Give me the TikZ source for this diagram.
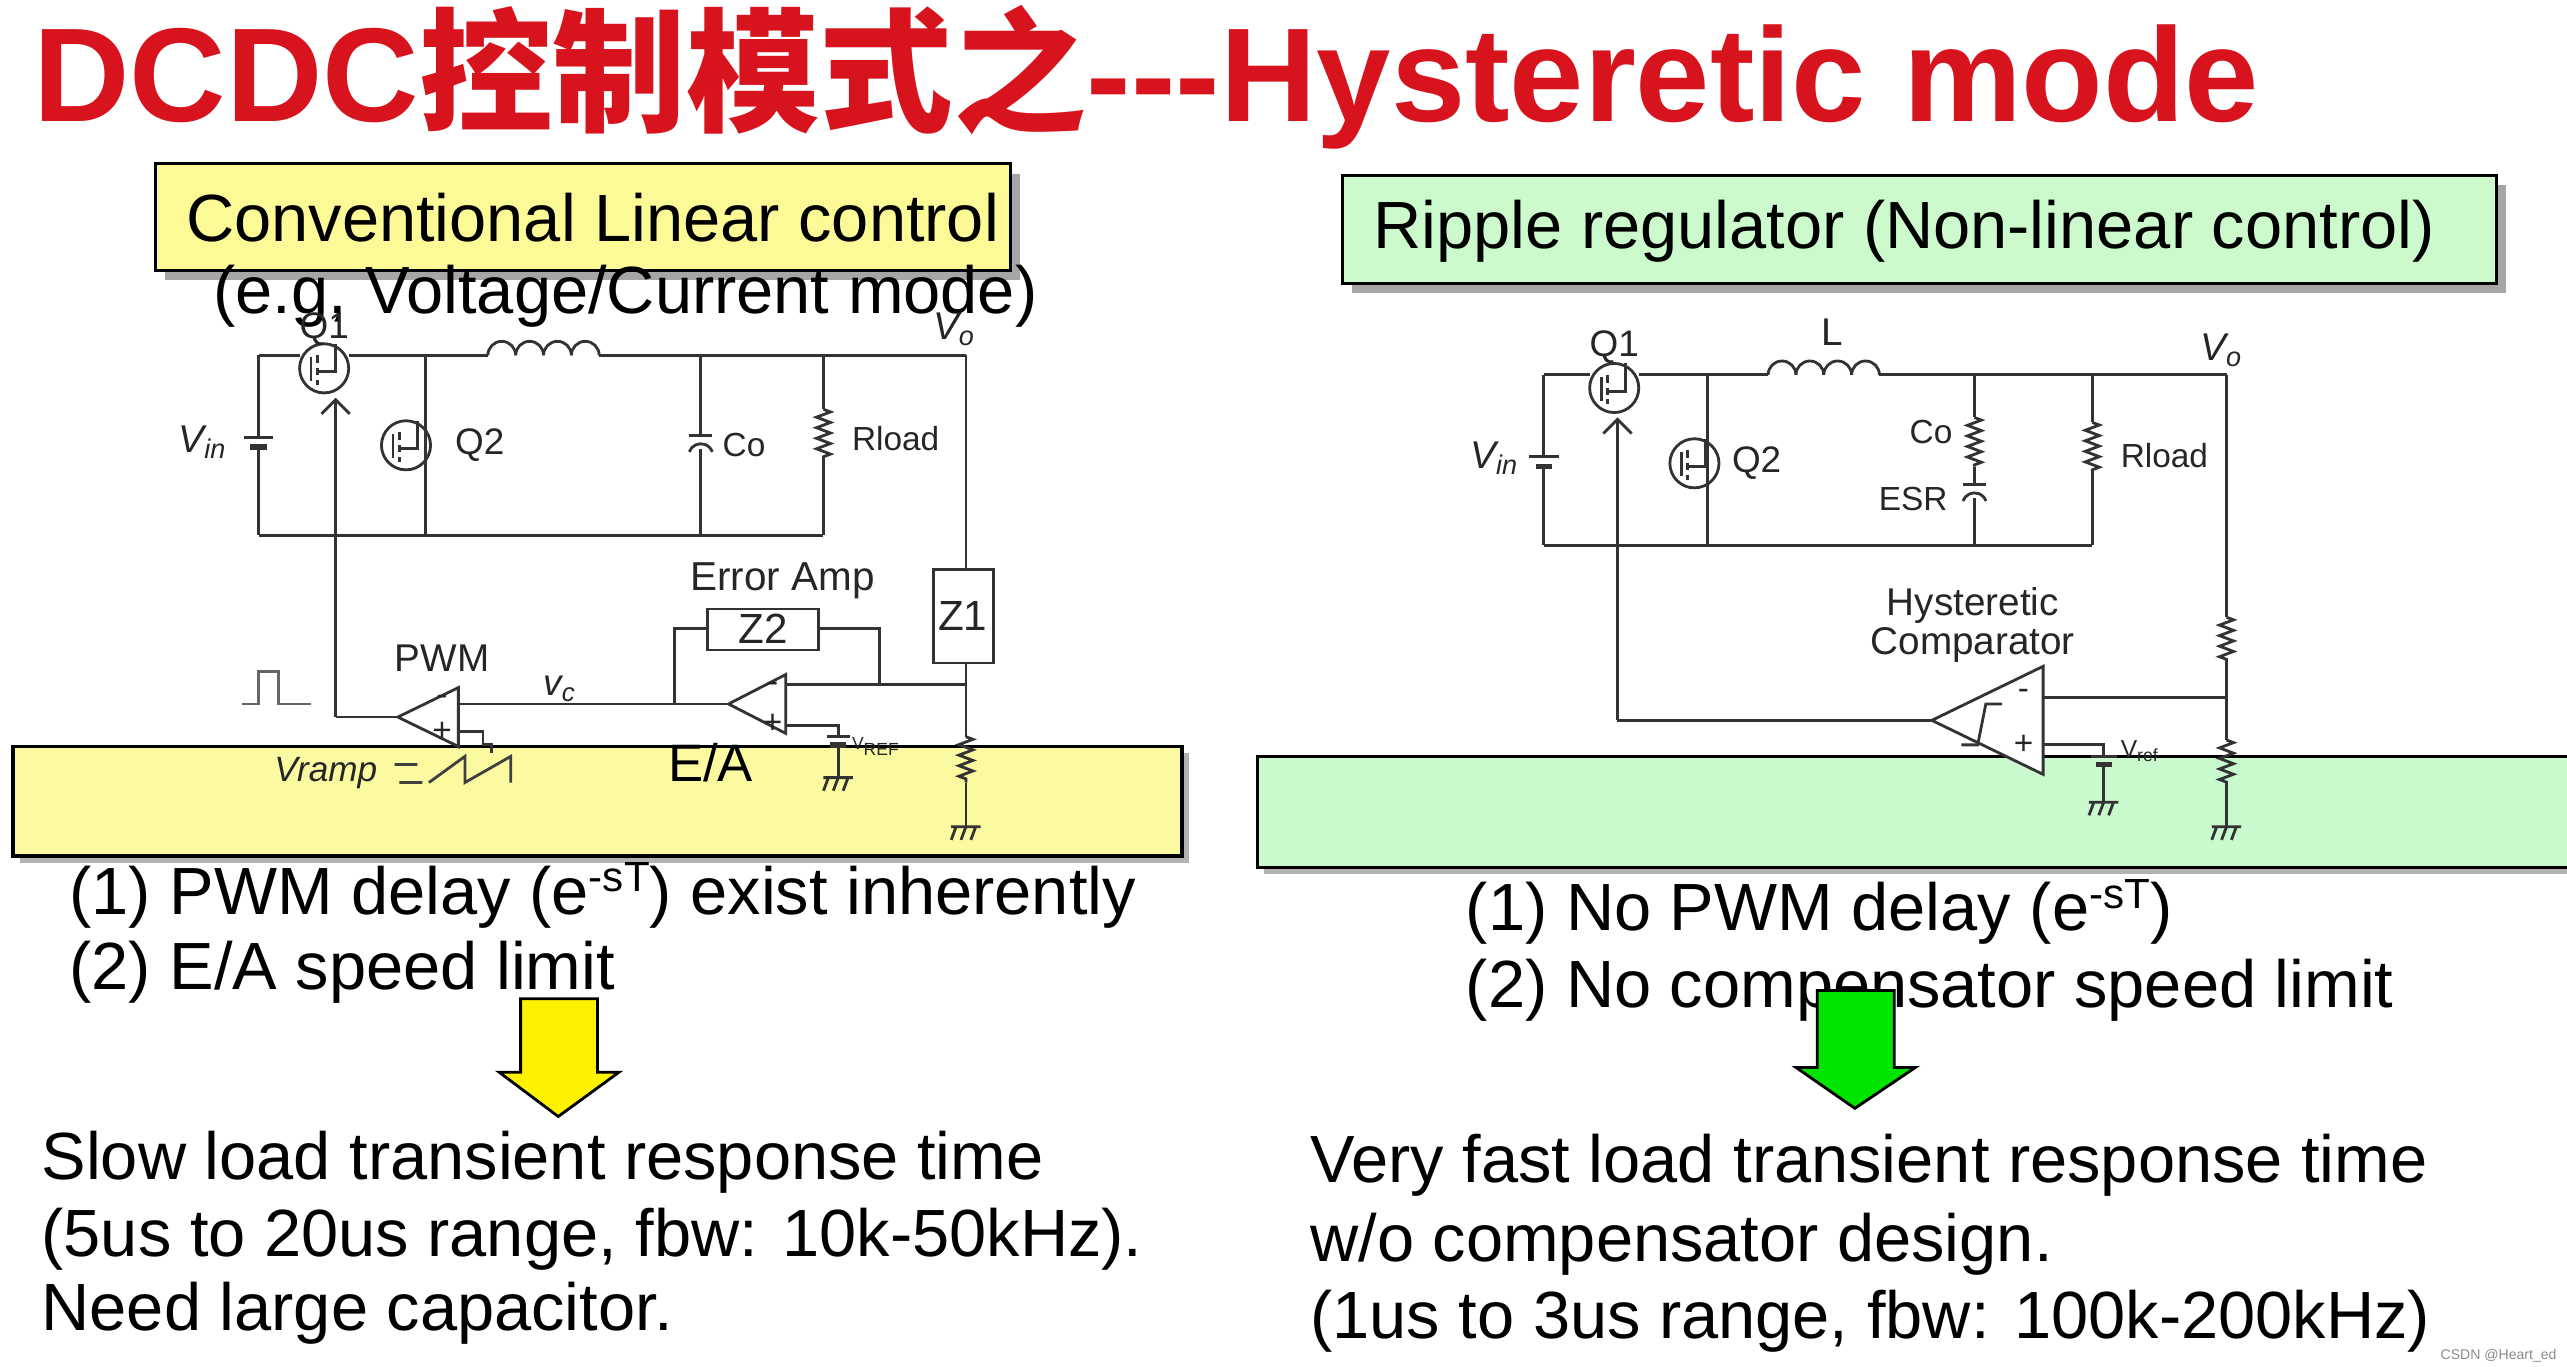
\documentclass[tikz,border=0pt]{standalone}
\usepackage{fontspec}
\setmainfont{Liberation Sans}
\newfontfamily\cjk{Noto Sans CJK SC}
\usetikzlibrary{arrows.meta,decorations.pathmorphing}
\definecolor{ttlred}{RGB}{215,20,30}
\definecolor{bandyel}{RGB}{252,250,160}
\definecolor{boxyel}{RGB}{252,250,150}
\definecolor{bandgrn}{RGB}{200,250,205}
\definecolor{boxgrn}{RGB}{205,250,205}
\newcommand{\zres}[3]{\draw[wire] (#1,#2) decorate[decoration={zigzag,segment length=3pt,amplitude=2pt}]{-- (#1,#3)};}
\newcommand{\zgnd}[2]{\draw[wire] (#1-9,#2)--(#1+9,#2) (#1-6,#2)--(#1-9,#2+8) (#1,#2)--(#1-3,#2+8) (#1+6,#2)--(#1+3,#2+8);}
\newcommand{\zfet}[2]{\draw[wire] (#1,#2) circle (15);
  \draw[wire] (#1-8,#2-7)--(#1-8,#2+8) (#1-4,#2-8)--(#1-4,#2-3) (#1-4,#2)--(#1-4,#2+4) (#1-4,#2+7)--(#1-4,#2+10) (#1-4,#2+2)--(#1+7,#2+2)--(#1+7,#2-15);}
\newcommand{\zbat}[2]{\draw[wire] (#1-9,#2-3)--(#1+9,#2-3); \draw[wire,line width=1.6pt] (#1-5,#2+3)--(#1+5,#2+3);}
\newcommand{\zind}[2]{\foreach \i in {0,...,3}{\draw[wire] (#1+\i*17,#2) arc (180:360:8.5);}}
\newcommand{\zamp}[4]{\draw[wire,fill=white] (#1,#2)--(#1+#3,#2-#4)--(#1+#3,#2+#4)--cycle;}
\begin{document}
\begin{tikzpicture}[x=0.01637cm,y=-0.01637cm,
  wire/.style={line width=0.8pt,draw=black!80},
  lbl/.style={font=\fontsize{9.5}{11}\selectfont,text=black!85,inner sep=0},
  body/.style={font=\fontsize{19}{22}\selectfont,anchor=west,inner sep=0},
  boxt/.style={font=\fontsize{19}{22}\selectfont,inner sep=0}]
\useasboundingbox (0,0) rectangle (1568,835);
\fill[white] (0,0) rectangle (1568,835);
% title
\node[anchor=west,inner sep=0,text=ttlred,font=\fontsize{38}{44}\selectfont\bfseries] (title) at (20,47) {DCDC{\cjk 控制模式之}{-}{-}{-}Hysteretic mode};
% ===== LEFT =====
\fill[black!35] (101,106) rectangle (623,171);
\draw[fill=boxyel,line width=0.8pt] (95,100) rectangle (617,165);
\node[boxt] (lt) at (362,133) {Conventional Linear control};
\fill[black!30] (12,460) rectangle (726,527);
\draw[fill=bandyel,line width=1pt] (8,456) rectangle (722,523);
\node[boxt] (lt2) at (382,181) {(e.g, Voltage/Current mode)};
% rails
\draw[wire] (158,217)--(183,217) (213,217)--(298,217) (366,217)--(590,217);
\zind{298}{217}
\draw[wire] (158,327)--(503,327);
\draw[wire] (158,217)--(158,267) (158,273)--(158,327);
\zbat{158}{270}
\node[lbl,font=\fontsize{11}{12}\selectfont\itshape] at (124,270) {V\textsubscript{in}};
\zfet{198}{225}
\node[lbl,font=\fontsize{10.5}{12}\selectfont] at (198,201) {Q1};
\draw[wire] (260,217)--(260,327);
\zfet{248}{272}
\node[lbl,font=\fontsize{10.5}{12}\selectfont] at (293,272) {Q2};
\draw[wire] (428,217)--(428,266) (428,274)--(428,327);
\draw[wire] (421,266)--(435,266);
\draw[wire] (421,276) arc (200:340:7.5);
\node[lbl,anchor=west] at (441,272) {Co};
\draw[wire] (503,217)--(503,250) (503,280)--(503,327);
\zres{503}{250}{280}
\node[lbl,anchor=west] at (520,268) {Rload};
\node[lbl,font=\fontsize{11}{12}\selectfont\itshape] at (583,201) {V\textsubscript{o}};
\draw[wire] (590,217)--(590,348);
\draw[fill=white,wire] (570,348) rectangle (607,405);
\node[lbl,font=\fontsize{12}{14}\selectfont] at (588,376) {Z1};
\draw[wire] (590,405)--(590,450) (590,478)--(590,505);
\zres{590}{450}{478}
\zgnd{590}{505}
% gate drive
\draw[wire,-{Straight Barb[length=4pt]}] (205,438)--(205,243);
\draw[wire] (205,438)--(243,438);
\zamp{243}{438}{37}{18}
\node[lbl] at (270,428) {-}; \node[lbl] at (270,447) {+};
\draw[wire] (280,430)--(445,430);
\draw[wire] (280,447)--(295,447)--(295,455)--(300,455)--(300,460);
\node[lbl,font=\fontsize{11}{13}\selectfont] at (270,402) {PWM};
\node[lbl,font=\fontsize{10.5}{12}\selectfont\itshape] at (342,421) {v\textsubscript{c}};
\draw[wire,draw=black!60] (148,430)--(158,430)--(158,410)--(170,410)--(170,430)--(190,430);
% E/A
\zamp{445}{430}{35}{18}
\node[lbl] at (472,420) {-}; \node[lbl] at (472,442) {+};
\draw[wire] (480,418)--(590,418);
\draw[wire] (412,430)--(412,384)--(432,384) (500,384)--(537,384)--(537,418);
\draw[fill=white,wire] (432,372) rectangle (500,397);
\node[lbl,font=\fontsize{12}{14}\selectfont] at (466,384) {Z2};
\node[lbl,font=\fontsize{11.5}{13}\selectfont] at (478,355) {Error Amp};
\draw[wire] (480,443)--(512,443)--(512,450);
\draw[wire] (505,450)--(519,450); \draw[wire,line width=1.6pt] (507,455)--(517,455);
\draw[wire] (512,455)--(512,475);
\zgnd{512}{475}
\node[lbl,anchor=west,font=\fontsize{5}{6}\selectfont] at (520,456) {V\textsubscript{REF}};
\node[inner sep=0,font=\fontsize{15}{17}\selectfont] at (434,466) {E/A};
\node[lbl,font=\fontsize{10}{12}\selectfont\itshape] at (199,472) {Vramp};
\draw[wire,draw=black!75] (241,467)--(255,467) (244,478)--(258,478) (262,478)--(284,462)--(284,478)--(312,462)--(312,478);
\node[body] at (42,547) {(1) PWM delay (e\raisebox{0.65ex}{\fontsize{12}{14}\selectfont -sT}) exist inherently};
\node[body] at (42,594) {(2) E/A speed limit};
\draw[fill=yellow,line width=0.8pt] (318,610)--(365,610)--(365,655)--(378,655)--(341,682)--(305,655)--(318,655)--cycle;
\node[body] at (25,710) {Slow load transient response time};
\node[body] at (25,757) {(5us to 20us range, fbw: 10k-50kHz).};
\node[body] at (25,802) {Need large capacitor.};
% ===== RIGHT =====
\fill[black!35] (826,113) rectangle (1531,179);
\draw[fill=boxgrn,line width=0.8pt] (820,107) rectangle (1525,173);
\node[boxt] (rt) at (1163,141) {Ripple regulator (Non-linear control)};
\fill[black!30] (772,466) rectangle (1568,534);
\draw[fill=bandgrn,line width=1pt] (768,462) rectangle (1575,530);
\draw[wire] (943,229)--(971,229) (1001,229)--(1080,229) (1148,229)--(1360,229);
\zind{1080}{229}
\node[lbl,font=\fontsize{11}{13}\selectfont] at (1119,203) {L};
\draw[wire] (943,333)--(1278,333);
\draw[wire] (943,229)--(943,279) (943,285)--(943,333);
\zbat{943}{282}
\node[lbl,font=\fontsize{11}{12}\selectfont\itshape] at (913,280) {V\textsubscript{in}};
\zfet{986}{237}
\node[lbl,font=\fontsize{10.5}{12}\selectfont] at (986,212) {Q1};
\draw[wire] (1043,229)--(1043,333);
\zfet{1035}{283}
\node[lbl,font=\fontsize{10.5}{12}\selectfont] at (1073,283) {Q2};
\draw[wire] (1206,229)--(1206,255) (1206,285)--(1206,296) (1206,304)--(1206,333);
\zres{1206}{255}{285}
\draw[wire] (1199,296)--(1213,296); \draw[wire] (1199,306) arc (200:340:7.5);
\node[lbl,anchor=east] at (1193,264) {Co};
\node[lbl,anchor=east] at (1190,305) {ESR};
\draw[wire] (1278,229)--(1278,258) (1278,288)--(1278,333);
\zres{1278}{258}{288}
\node[lbl,anchor=west] at (1295,278) {Rload};
\node[lbl,font=\fontsize{11}{12}\selectfont\itshape] at (1357,214) {V\textsubscript{o}};
\draw[wire] (1360,229)--(1360,377) (1360,405)--(1360,452) (1360,480)--(1360,505);
\zres{1360}{377}{405}
\zres{1360}{452}{480}
\zgnd{1360}{505}
\draw[wire,-{Straight Barb[length=4pt]}] (988,440)--(988,255);
\draw[wire] (988,440)--(1180,440);
\zamp{1180}{440}{68}{33}
\draw[wire] (1198,455)--(1208,455)--(1213,430)--(1223,430);
\node[lbl] at (1236,424) {-}; \node[lbl] at (1236,455) {+};
\draw[wire] (1248,426)--(1360,426);
\draw[wire] (1248,455)--(1285,455)--(1285,462);
\draw[wire] (1277,462)--(1293,462); \draw[wire,line width=1.6pt] (1280,467)--(1290,467);
\draw[wire] (1285,467)--(1285,490);
\zgnd{1285}{490}
\node[lbl,anchor=west,font=\fontsize{7}{8}\selectfont] at (1295,459) {V\textsubscript{ref}};
\node[lbl,font=\fontsize{11}{13}\selectfont] at (1205,370) {Hysteretic};
\node[lbl,font=\fontsize{11}{13}\selectfont] at (1205,394) {Comparator};
\node[body] at (895,557) {(1) No PWM delay (e\raisebox{0.65ex}{\fontsize{12}{14}\selectfont -sT})};
\node[body] at (895,605) {(2) No compensator speed limit};
\draw[fill=green!90!black,line width=0.8pt] (1110,605)--(1157,605)--(1157,652)--(1170,652)--(1133,677)--(1097,652)--(1110,652)--cycle;
\node[body] at (800,712) {Very fast load transient response time};
\node[body] at (800,760) {w/o compensator design.};
\node[body] at (800,807) {(1us to 3us range, fbw: 100k-200kHz)};
\node[anchor=east,inner sep=0,text=black!45,font=\fontsize{4}{5}\selectfont] at (1562,828) {CSDN @Heart\_ed};
\end{tikzpicture}
\end{document}
